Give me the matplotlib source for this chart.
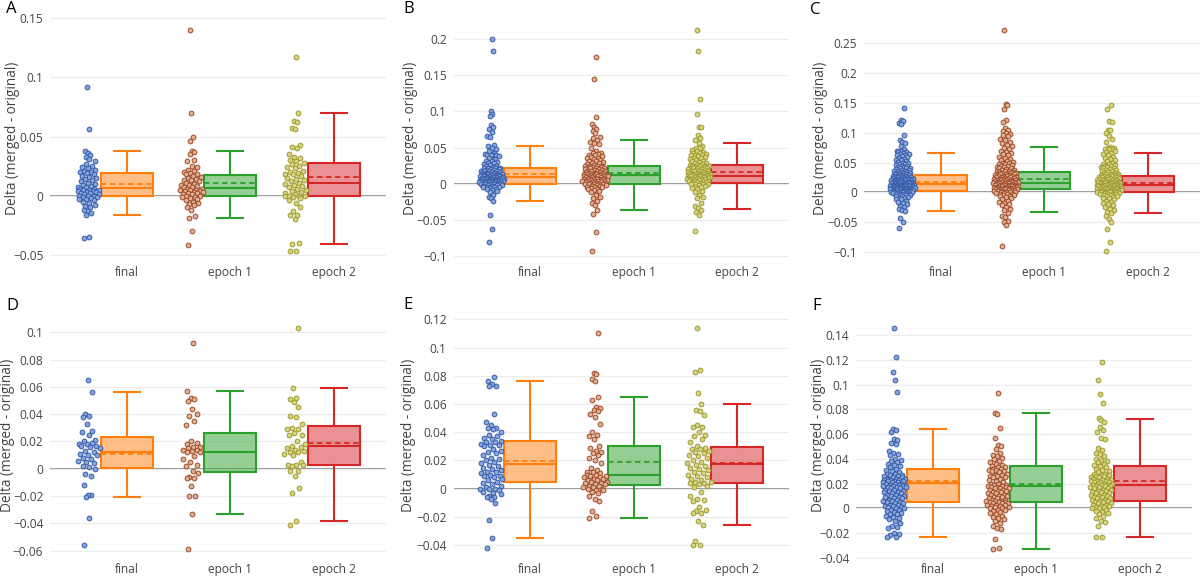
import matplotlib
matplotlib.use("Agg")
import matplotlib.pyplot as plt
import numpy as np
from matplotlib.colors import to_rgba
from matplotlib.ticker import FixedLocator, FuncFormatter

# point values, in units of 1e-3
A_FINAL = [92, 56, 38, 36, 34, 33, 31, 29, 27, 25, 24, 23, 22, 21, 20, 20, 19, 18, 17, 16, 15, 14, 13, 12,
           11, 10, 9, 8, 7, 7, 6, 6, 5, 5, 5, 4, 4, 3, 3, 2, 2, 1, 1, 0, 0, 0, -1, -1, -2, -3, -3, -4, -5,
           -6, -8, -9, -10, -12, -13, -15, -16, -35, -36]
A_EPOCH1 = [140, 70, 50, 46, 38, 37, 35, 30, 29, 25, 24, 22, 21, 20, 19, 18, 18, 17, 16, 15, 14, 13, 13, 12,
            11, 10, 9, 9, 8, 7, 7, 6, 6, 5, 5, 5, 4, 4, 3, 3, 2, 2, 1, 1, 0, 0, -1, -1, -2, -3, -4, -5, -6,
            -7, -8, -10, -12, -17, -19, -30, -42]
A_EPOCH2 = [117, 70, 63, 62, 57, 56, 43, 41, 40, 35, 33, 32, 30, 29, 28, 27, 25, 24, 23, 21, 20, 19, 18, 18,
            17, 15, 14, 13, 12, 11, 10, 9, 8, 7, 6, 5, 4, 3, 2, 1, 0, 0, 0, 0, -1, -2, -4, -6, -10, -13, -16,
            -16, -20, -40, -41, -47, -47]

B_FINAL = [200, 184, 100, 97, 94, 81, 79, 76, 72, 66, 65, 53, 52, 50, 48, 45, 42, 41, 40, 40, 40, 40, 38, 36,
           34, 32, 31, 30, 29, 28, 27, 26, 25, 24, 23, 22, 22, 21, 21, 20, 20, 19, 19, 18, 18, 17, 17, 16, 16,
           15, 15, 15, 14, 14, 14, 13, 13, 13, 12, 12, 12, 11, 11, 11, 10, 10, 10, 10, 9, 9, 9, 9, 8, 8, 8, 8,
           7, 7, 7, 7, 6, 6, 6, 6, 5, 5, 5, 5, 4, 4, 4, 4, 3, 3, 3, 3, 2, 2, 2, 2, 1, 1, 1, 1, 0, 0, 0, 0, -1,
           -1, -1, -2, -2, -2, -3, -3, -4, -4, -5, -5, -6, -7, -8, -9, -10, -12, -15, -18, -20, -24, -44, -63,
           -80]
B_EPOCH1 = [175, 145, 92, 83, 79, 75, 73, 70, 65, 63, 61, 58, 56, 55, 50, 45, 43, 42, 41, 40, 39, 38, 37, 36,
            35, 34, 33, 32, 31, 30, 29, 28, 27, 26, 25, 25, 24, 24, 23, 23, 22, 22, 21, 21, 20, 20, 19, 19, 18,
            18, 17, 17, 16, 16, 15, 15, 15, 14, 14, 14, 13, 13, 13, 12, 12, 12, 11, 11, 11, 10, 10, 10, 9, 9, 9,
            8, 8, 8, 7, 7, 7, 6, 6, 6, 5, 5, 5, 4, 4, 4, 3, 3, 3, 2, 2, 2, 1, 1, 1, 0, 0, 0, -1, -1, -2, -2,
            -3, -3, -4, -4, -5, -6, -7, -8, -9, -10, -12, -15, -18, -20, -24, -27, -30, -36, -42, -67, -93]
B_EPOCH2 = [212, 184, 117, 97, 79, 78, 67, 63, 60, 56, 52, 50, 49, 47, 45, 44, 43, 42, 41, 40, 40, 39, 38, 37,
            36, 35, 34, 33, 32, 31, 30, 29, 28, 27, 26, 26, 25, 25, 24, 24, 23, 23, 22, 22, 21, 21, 20, 20, 19,
            19, 18, 18, 17, 17, 16, 16, 15, 15, 14, 14, 14, 13, 13, 13, 12, 12, 12, 11, 11, 11, 10, 10, 10, 9,
            9, 9, 8, 8, 8, 7, 7, 7, 6, 6, 5, 5, 4, 4, 3, 3, 2, 2, 1, 1, 0, 0, -1, -1, -2, -3, -4, -5, -6, -8,
            -10, -12, -15, -18, -20, -27, -31, -34, -36, -39, -43, -66]

C_FINAL = [142, 122, 120, 117, 115, 96, 88, 85, 82, 78, 73, 70, 69, 68, 67, 66, 65, 64, 63, 62, 61, 60, 58,
           56, 55, 54, 52, 51, 50, 49, 48, 47, 46, 45, 44, 43, 42, 41, 40, 40, 39, 38, 37, 36, 36, 35, 34, 34,
           33, 32, 32, 31, 30, 30, 29, 29, 28, 28, 27, 27, 26, 26, 25, 25, 25, 24, 24, 24, 23, 23, 23, 22, 22,
           22, 21, 21, 21, 20, 20, 20, 19, 19, 19, 18, 18, 18, 17, 17, 17, 16, 16, 16, 15, 15, 15, 15, 14, 14,
           14, 14, 13, 13, 13, 13, 12, 12, 12, 12, 11, 11, 11, 11, 10, 10, 10, 10, 9, 9, 9, 9, 8, 8, 8, 8, 7,
           7, 7, 7, 6, 6, 6, 6, 5, 5, 5, 5, 4, 4, 4, 4, 3, 3, 3, 3, 2, 2, 2, 1, 1, 1, 0, 0, 0, -1, -1, -1, -2,
           -2, -3, -3, -4, -4, -5, -6, -7, -8, -9, -10, -11, -12, -14, -16, -18, -20, -23, -25, -28, -30, -32,
           -43, -50, -60]
C_EPOCH1 = [272, 148, 146, 140, 122, 118, 108, 105, 103, 100, 98, 96, 94, 90, 88, 84, 82, 80, 78, 75, 72, 70,
            68, 66, 64, 62, 60, 58, 56, 54, 52, 51, 50, 49, 48, 47, 46, 45, 44, 43, 42, 41, 40, 39, 38, 37, 36,
            35, 35, 34, 34, 33, 33, 32, 32, 31, 31, 30, 30, 29, 29, 28, 28, 27, 27, 26, 26, 25, 25, 24, 24, 23,
            23, 22, 22, 21, 21, 20, 20, 20, 19, 19, 19, 18, 18, 18, 17, 17, 17, 16, 16, 16, 15, 15, 15, 14, 14,
            14, 13, 13, 13, 12, 12, 12, 11, 11, 11, 10, 10, 10, 9, 9, 9, 8, 8, 8, 7, 7, 7, 6, 6, 6, 5, 5, 5, 4,
            4, 4, 3, 3, 2, 2, 1, 1, 0, 0, -1, -1, -2, -2, -3, -4, -5, -6, -7, -8, -10, -12, -14, -16, -18, -20,
            -22, -25, -28, -30, -35, -40, -42, -48, -50, -55, -90]
C_EPOCH2 = [146, 140, 120, 118, 105, 104, 100, 95, 90, 85, 76, 75, 74, 73, 72, 72, 70, 68, 66, 64, 62, 60, 58,
            56, 54, 52, 50, 48, 47, 46, 45, 44, 43, 42, 41, 40, 39, 38, 37, 36, 35, 34, 33, 32, 31, 30, 30, 29,
            29, 28, 28, 27, 27, 26, 26, 25, 25, 24, 24, 23, 23, 22, 22, 21, 21, 20, 20, 19, 19, 18, 18, 18, 17,
            17, 17, 16, 16, 16, 15, 15, 15, 14, 14, 14, 13, 13, 13, 12, 12, 12, 11, 11, 11, 10, 10, 10, 9, 9, 9,
            8, 8, 8, 7, 7, 7, 6, 6, 6, 5, 5, 5, 4, 4, 4, 3, 3, 3, 2, 2, 2, 1, 1, 1, 0, 0, 0, -1, -1, -2, -2, -3,
            -3, -4, -5, -6, -7, -8, -9, -10, -12, -14, -16, -18, -20, -22, -25, -28, -30, -33, -35, -40, -45, -50,
            -62, -84, -98]

D_FINAL = [65, 56, 40, 39, 38, 33, 28, 27, 25, 21, 20, 19, 18, 18, 17, 17, 16, 15, 13, 12, 11, 10, 10, 8, 7,
           6, 5, 4, 2, 1, 0, -4, -5, -12, -19, -19, -21, -36, -56]
D_EPOCH1 = [92, 57, 52, 51, 50, 44, 40, 39, 35, 32, 20, 19, 18, 16, 16, 15, 14, 14, 13, 12, 12, 9, 7, 5, 3, 2,
            -2, -3, -6, -7, -7, -13, -20, -20, -33, -59]
D_EPOCH2 = [103, 59, 52, 51, 49, 45, 39, 38, 33, 30, 29, 29, 26, 25, 25, 20, 18, 17, 16, 15, 14, 13, 12, 12, 11,
            10, 5, 3, 3, 3, 2, -2, -2, -5, -14, -18, -38, -41]

E_FINAL = [79, 76, 74, 73, 73, 53, 47, 45, 43, 43, 42, 40, 38, 37, 36, 35, 34, 33, 33, 32, 31, 31, 30, 28, 27,
           26, 25, 24, 22, 21, 20, 19, 18, 17, 16, 15, 14, 13, 12, 12, 11, 10, 9, 9, 8, 7, 6, 5, 4, 3, 2, 1, 0,
           0, 0, -1, -2, -3, -4, -5, -6, -6, -7, -10, -22, -35, -42]
E_EPOCH1 = [110, 82, 81, 78, 76, 65, 63, 58, 57, 56, 55, 53, 51, 46, 40, 38, 37, 35, 30, 29, 27, 26, 25, 24, 22,
            20, 18, 15, 13, 12, 12, 11, 10, 10, 9, 9, 8, 8, 7, 7, 6, 6, 5, 5, 4, 4, 3, 3, 2, 2, 1, 1, 0, 0, -1,
            -1, -2, -3, -5, -7, -9, -16, -19, -21]
E_EPOCH2 = [114, 84, 83, 68, 60, 56, 55, 52, 45, 44, 44, 40, 38, 37, 35, 33, 30, 29, 28, 28, 27, 26, 25, 24, 23,
            22, 20, 19, 18, 17, 16, 15, 14, 13, 12, 11, 10, 9, 8, 7, 6, 5, 5, 4, 4, 3, 2, 1, -2, -5, -7, -8, -9,
            -13, -15, -16, -17, -17, -23, -26, -37, -40, -40]

F_FINAL = [146, 122, 110, 104, 94, 64, 63, 62, 56, 55, 53, 52, 46, 45, 44, 43, 40, 39, 38, 37, 36, 35, 34, 33,
           32, 31, 30, 29, 28, 28, 27, 27, 26, 26, 25, 25, 24, 24, 24, 23, 23, 23, 22, 22, 22, 21, 21, 21, 20,
           20, 20, 19, 19, 19, 18, 18, 18, 17, 17, 17, 16, 16, 15, 15, 14, 14, 13, 13, 12, 12, 11, 11, 10, 10,
           9, 9, 8, 8, 7, 7, 6, 6, 5, 5, 4, 4, 3, 3, 2, 2, 1, 1, 0, 0, -1, -1, -2, -3, -4, -5, -5, -6, -7, -8,
           -9, -10, -12, -14, -15, -16, -20, -21, -22, -23, -23]
F_EPOCH1 = [93, 77, 76, 65, 57, 51, 50, 48, 45, 43, 42, 41, 40, 38, 37, 36, 35, 34, 33, 33, 32, 32, 31, 31, 30,
            30, 29, 28, 27, 27, 26, 26, 25, 25, 24, 23, 22, 21, 20, 20, 19, 19, 18, 18, 17, 17, 17, 16, 16, 16,
            15, 15, 14, 14, 13, 13, 12, 12, 11, 11, 10, 10, 9, 9, 8, 8, 7, 7, 6, 6, 6, 5, 5, 5, 4, 4, 4, 3, 3,
            3, 2, 2, 1, 1, 0, 0, -1, -1, -2, -3, -4, -5, -6, -7, -8, -9, -10, -12, -14, -16, -17, -25, -32, -33]
F_EPOCH2 = [118, 104, 92, 85, 73, 71, 70, 66, 63, 62, 57, 56, 49, 47, 45, 44, 42, 40, 39, 38, 37, 36, 35, 34,
            33, 32, 31, 30, 29, 28, 28, 27, 27, 26, 26, 25, 25, 24, 24, 23, 23, 22, 22, 22, 21, 21, 21, 20, 20,
            20, 19, 19, 19, 18, 18, 18, 17, 17, 16, 16, 15, 15, 14, 14, 13, 13, 12, 12, 11, 11, 10, 10, 9, 9, 8,
            8, 7, 7, 6, 6, 5, 5, 4, 4, 3, 3, 2, 2, 1, 1, 0, 0, -1, -2, -3, -4, -5, -6, -8, -10, -11, -14, -23,
            -23]

# box statistics (1e-3), panels A..F, groups final/epoch 1/epoch 2
BOX_Q1 = [[0, 0, 0], [0, 0, 1.5], [2.5, 5.5, 1], [0.5, -2.5, 3], [4.5, 2.4, 3.8], [5, 4.8, 5.9]]
BOX_MED = [[6.5, 6.5, 11], [9, 11.5, 11], [14.5, 16, 13], [12.5, 12.5, 16.5], [17.5, 9.7, 17.5], [20.5, 17.8, 19]]
BOX_Q3 = [[19, 17.5, 28], [21.5, 25, 26], [29, 34, 28], [23, 26, 31], [33.5, 30.5, 29.5], [31.5, 34, 34]]
BOX_LO = [[-16, -18.5, -41], [-24.5, -36.5, -34.5], [-32, -33.5, -34.5], [-21, -33, -38], [-35, -21, -26],
          [-23, -33, -23]]
BOX_HI = [[38, 38, 70], [52.5, 61, 56], [66, 76.5, 66.5], [56, 57, 59], [76, 65, 60], [64, 77, 72]]
BOX_MEAN = [[9.5, 10.5, 15.5], [13.5, 14.5, 16], [17.5, 22.5, 16], [11, 12.5, 18.5], [19.5, 19, 18],
            [22, 20, 22.3]]

PANELS = ["A", "B", "C", "D", "E", "F"]
GROUPS = ["final", "epoch 1", "epoch 2"]
POINTS = [
    [A_FINAL, A_EPOCH1, A_EPOCH2],
    [B_FINAL, B_EPOCH1, B_EPOCH2],
    [C_FINAL, C_EPOCH1, C_EPOCH2],
    [D_FINAL, D_EPOCH1, D_EPOCH2],
    [E_FINAL, E_EPOCH1, E_EPOCH2],
    [F_FINAL, F_EPOCH1, F_EPOCH2],
]
Y_TICKS = [
    [-0.05, 0, 0.05, 0.1, 0.15],
    [-0.1, -0.05, 0, 0.05, 0.1, 0.15, 0.2],
    [-0.1, -0.05, 0, 0.05, 0.1, 0.15, 0.2, 0.25],
    [-0.06, -0.04, -0.02, 0, 0.02, 0.04, 0.06, 0.08, 0.1],
    [-0.04, -0.02, 0, 0.02, 0.04, 0.06, 0.08, 0.1, 0.12],
    [-0.04, -0.02, 0, 0.02, 0.04, 0.06, 0.08, 0.1, 0.12, 0.14],
]
Y_LIMS = [(-0.0561, 0.1528), (-0.1083, 0.2332), (-0.1169, 0.2975),
          (-0.0662, 0.1149), (-0.0498, 0.1252), (-0.041, 0.1586)]

# layout in pixels of the 1200x576 canvas
W, H = 1200, 576
CAT_PX = 103.5
FINAL_X = [126.8, 530.2, 940.8, 126.8, 530.2, 932.8]
ROW_TOP = [15, 15, 15, 312, 312, 312]
ROW_BOT = [262, 262, 262, 559, 559, 559]
XLIM = (-0.74, 2.5)
LETTER_XY = [(6, 1), (403, 1), (810, 2), (6, 298), (403, 297), (812, 298)]
YLABEL_X = [13, 410, 820, 8, 409, 819]

POINT_FACE = ["#87a5dc", "#dfb092", "#d6d27e"]
POINT_EDGE = ["#2f55a3", "#9a4424", "#9b972c"]
BOX_COLORS = ["#ff7f0e", "#2ca02c", "#d62728"]
TEXT = "#444444"

plt.rcParams["font.family"] = ["Open Sans", "DejaVu Sans"]


def jitter_offsets(vals, half_width):
    """Density-scaled deterministic jitter, like plotly's box points."""
    v = np.asarray(vals, dtype=float)
    order = np.argsort(v, kind="stable")
    sv = v[order]
    n = len(sv)
    min_spread = (sv[-1] - sv[0]) * 0.01
    dens = np.empty(n)
    for i in range(n):
        i0 = max(0, i - 5)
        i1 = min(n - 1, i + 5)
        dens[i] = (i1 - i0) / (sv[i1] - sv[i0] + min_spread)
    factor = np.sqrt(dens / dens.max())
    u = ((np.arange(n) * 0.6180339887) % 1.0) * 2 - 1
    off = np.empty(n)
    off[order] = factor * u * half_width
    return off


def fmt_tick(v, _pos=None):
    if abs(v) < 1e-12:
        return "0"
    return f"{round(v, 6):g}".replace("-", "\u2212")


fig = plt.figure(figsize=(W / 100, H / 100), dpi=100)

for p, name in enumerate(PANELS):
    left = FINAL_X[p] + XLIM[0] * CAT_PX
    width = (XLIM[1] - XLIM[0]) * CAT_PX
    top, bot = ROW_TOP[p], ROW_BOT[p]
    ax = fig.add_axes([left / W, 1 - bot / H, width / W, (bot - top) / H])
    ax.set_xlim(*XLIM)
    ax.set_ylim(*Y_LIMS[p])
    for s in ax.spines.values():
        s.set_visible(False)

    ax.yaxis.set_major_locator(FixedLocator(Y_TICKS[p]))
    ax.yaxis.set_major_formatter(FuncFormatter(fmt_tick))
    ax.grid(axis="y", color="#ececec", lw=0.9, zorder=0)
    ax.axhline(0, color="#8a8a8a", lw=1.3, zorder=1)
    ax.set_xticks(range(3))
    ax.set_xticklabels(GROUPS)
    ax.tick_params(axis="both", length=0, labelsize=8.6, labelcolor=TEXT)
    ax.tick_params(axis="y", pad=5)
    ax.tick_params(axis="x", pad=3)

    for g in range(3):
        vals = np.asarray(POINTS[p][g], dtype=float) / 1000.0
        xs = g - 0.375 + jitter_offsets(vals, 0.125)
        ax.scatter(xs, vals, s=12, c=POINT_FACE[g], edgecolors=POINT_EDGE[g],
                   linewidths=0.65, zorder=3)

        col = BOX_COLORS[g]
        stats = [{
            "q1": BOX_Q1[p][g] / 1000.0,
            "med": BOX_MED[p][g] / 1000.0,
            "q3": BOX_Q3[p][g] / 1000.0,
            "whislo": BOX_LO[p][g] / 1000.0,
            "whishi": BOX_HI[p][g] / 1000.0,
            "mean": BOX_MEAN[p][g] / 1000.0,
            "fliers": [],
        }]
        ax.bxp(stats, positions=[g], widths=0.5, capwidths=0.25, patch_artist=True,
               showmeans=True, meanline=True, showfliers=False, manage_ticks=False,
               boxprops=dict(facecolor=to_rgba(col, 0.5), edgecolor=col, lw=1.5),
               medianprops=dict(color=col, lw=1.5),
               meanprops=dict(color=col, lw=1.3, ls=(0, (3, 2))),
               whiskerprops=dict(color=col, lw=1.5),
               capprops=dict(color=col, lw=1.5), zorder=2)

    fig.text(YLABEL_X[p] / W, 1 - (top + bot) / 2 / H, "Delta (merged - original)",
             rotation=90, ha="center", va="center", fontsize=9.8, color=TEXT)
    lx, ly = LETTER_XY[p]
    fig.text(lx / W, 1 - ly / H, name, ha="left", va="top", fontsize=12, color="black")

fig.savefig("out.png", dpi=100)
